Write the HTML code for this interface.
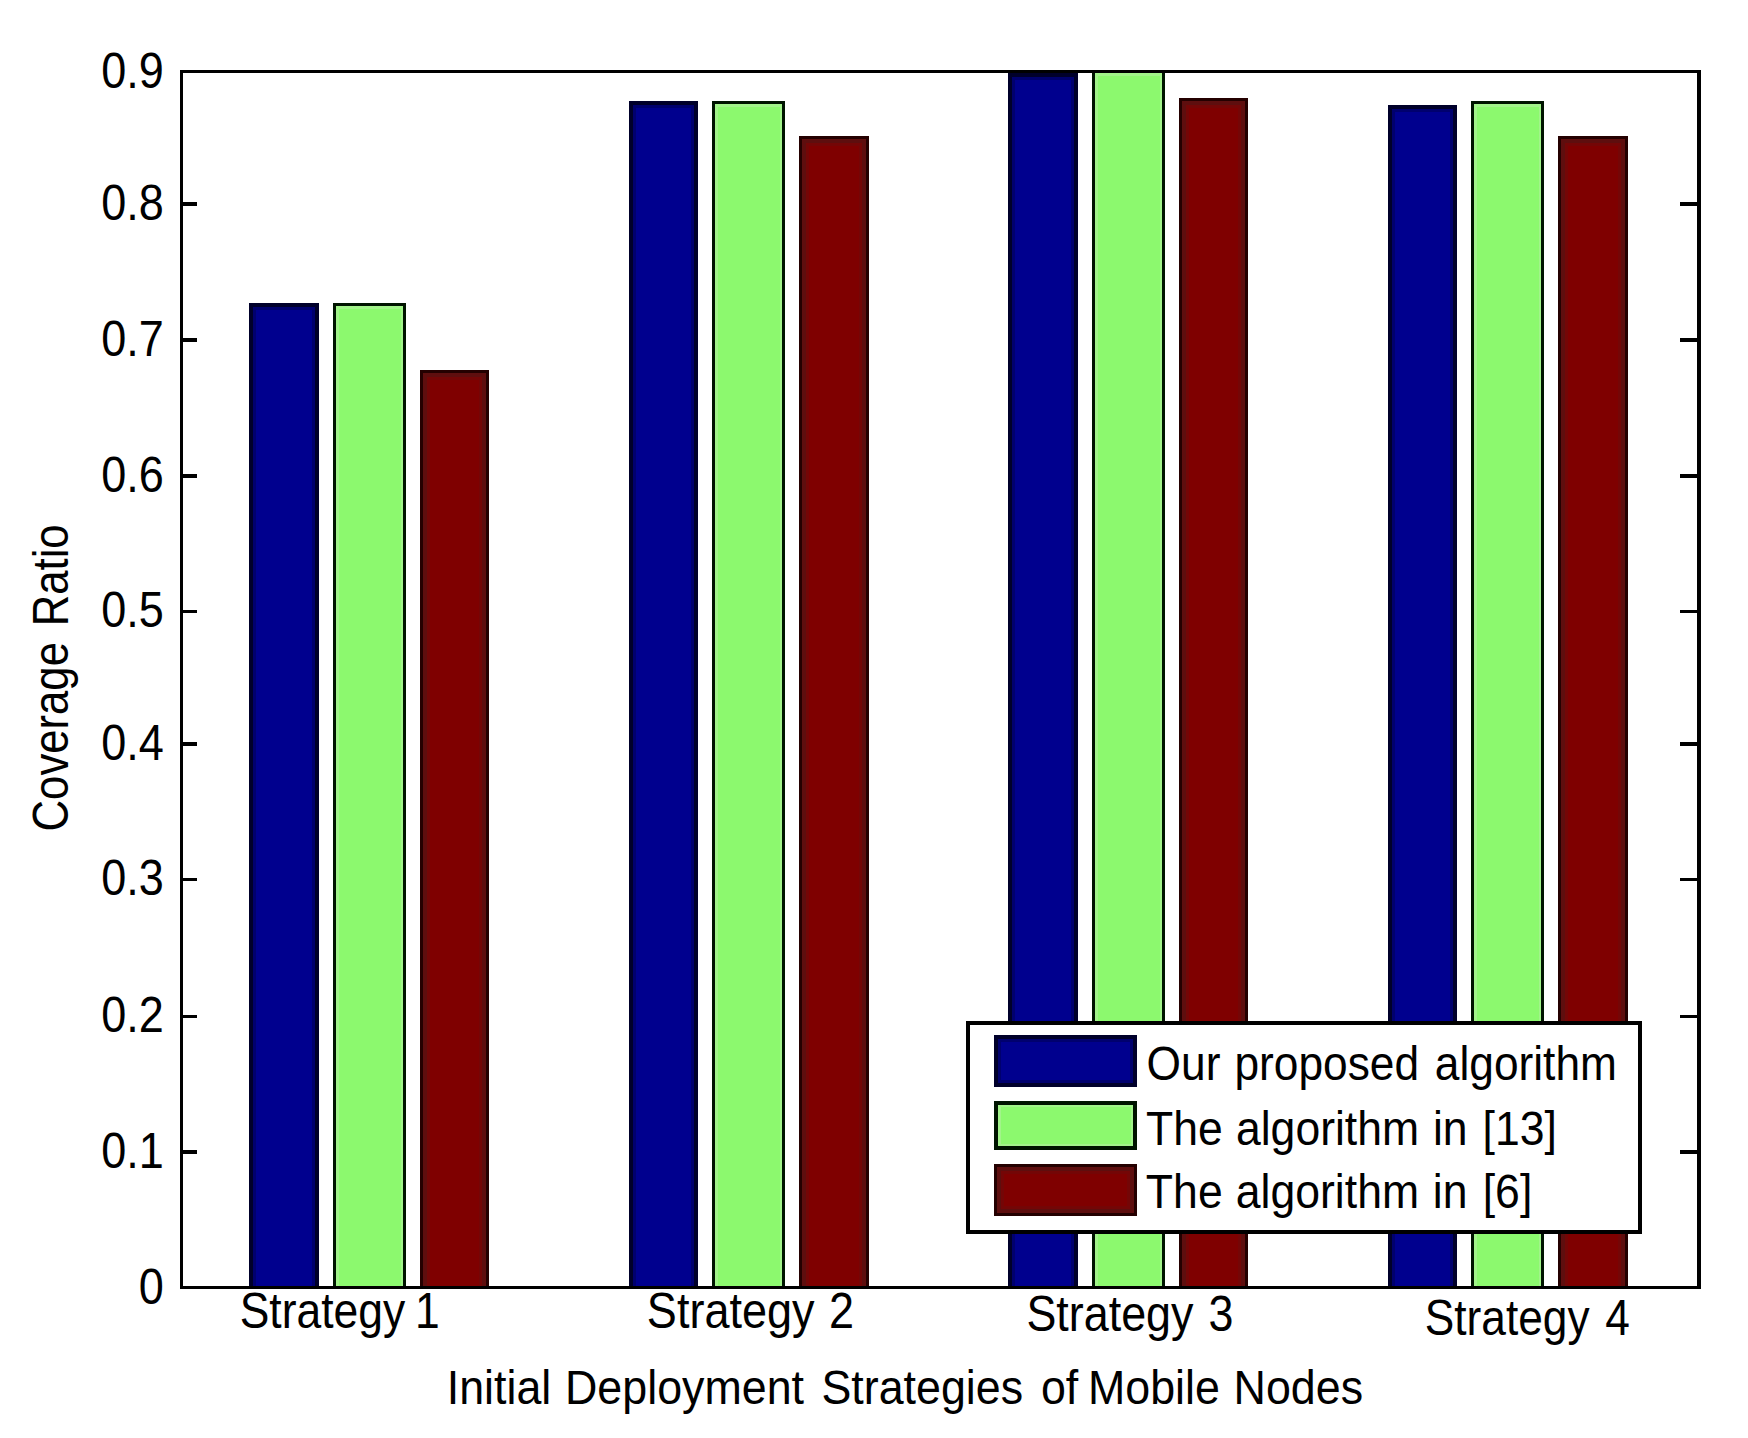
<!DOCTYPE html>
<html><head><meta charset="utf-8"><title>Coverage Ratio</title>
<style>
html,body{margin:0;padding:0;background:#fff}
svg{display:block}
text{font-family:"Liberation Sans",sans-serif;font-size:100px;fill:#000}
rect{shape-rendering:crispEdges}
</style></head><body>
<svg width="1748" height="1438" viewBox="0 0 1748 1438">
<rect x="0" y="0" width="1748" height="1438" fill="#fff"/>
<rect x="249" y="303" width="70" height="986" fill="#00002a"/>
<rect x="253" y="307" width="62" height="982" fill="#00006e"/>
<rect x="256" y="310" width="56" height="979" fill="#00008e"/>
<rect x="333" y="303" width="73" height="986" fill="#001400"/>
<rect x="336" y="306" width="67" height="983" fill="#a2f48a"/>
<rect x="338.5" y="308.5" width="62" height="980.5" fill="#8cf96e"/>
<rect x="420" y="370" width="69" height="919" fill="#240000"/>
<rect x="423" y="373" width="63" height="916" fill="#5e0e0e"/>
<rect x="427" y="377" width="55" height="912" fill="#740606"/>
<rect x="430" y="380" width="49" height="909" fill="#7f0000"/>
<rect x="629" y="101" width="69" height="1188" fill="#00002a"/>
<rect x="633" y="105" width="61" height="1184" fill="#00006e"/>
<rect x="636" y="108" width="55" height="1181" fill="#00008e"/>
<rect x="712" y="101" width="73" height="1188" fill="#001400"/>
<rect x="715" y="104" width="67" height="1185" fill="#a2f48a"/>
<rect x="717.5" y="106.5" width="62" height="1182.5" fill="#8cf96e"/>
<rect x="799" y="136" width="70" height="1153" fill="#240000"/>
<rect x="802" y="139" width="64" height="1150" fill="#5e0e0e"/>
<rect x="806" y="143" width="56" height="1146" fill="#740606"/>
<rect x="809" y="146" width="50" height="1143" fill="#7f0000"/>
<rect x="1008" y="73" width="70" height="1216" fill="#00002a"/>
<rect x="1012" y="77" width="62" height="1212" fill="#00006e"/>
<rect x="1015" y="80" width="56" height="1209" fill="#00008e"/>
<rect x="1092" y="70" width="73" height="1219" fill="#001400"/>
<rect x="1095" y="73" width="67" height="1216" fill="#a2f48a"/>
<rect x="1097.5" y="75.5" width="62" height="1213.5" fill="#8cf96e"/>
<rect x="1179" y="98" width="69" height="1191" fill="#240000"/>
<rect x="1182" y="101" width="63" height="1188" fill="#5e0e0e"/>
<rect x="1186" y="105" width="55" height="1184" fill="#740606"/>
<rect x="1189" y="108" width="49" height="1181" fill="#7f0000"/>
<rect x="1388" y="105" width="69" height="1184" fill="#00002a"/>
<rect x="1392" y="109" width="61" height="1180" fill="#00006e"/>
<rect x="1395" y="112" width="55" height="1177" fill="#00008e"/>
<rect x="1471" y="101" width="73" height="1188" fill="#001400"/>
<rect x="1474" y="104" width="67" height="1185" fill="#a2f48a"/>
<rect x="1476.5" y="106.5" width="62" height="1182.5" fill="#8cf96e"/>
<rect x="1558" y="136" width="70" height="1153" fill="#240000"/>
<rect x="1561" y="139" width="64" height="1150" fill="#5e0e0e"/>
<rect x="1565" y="143" width="56" height="1146" fill="#740606"/>
<rect x="1568" y="146" width="50" height="1143" fill="#7f0000"/>
<rect x="180" y="70" width="1521" height="3.2" fill="#000"/>
<rect x="180" y="1285.8" width="1521" height="3.2" fill="#000"/>
<rect x="180" y="70" width="3.2" height="1219" fill="#000"/>
<rect x="1697.2" y="70" width="3.8" height="1219" fill="#000"/>
<rect x="180" y="202" width="17" height="3.5" fill="#000"/>
<rect x="1680" y="202" width="21" height="3.5" fill="#000"/>
<rect x="180" y="338" width="17" height="3.5" fill="#000"/>
<rect x="1680" y="338" width="21" height="3.5" fill="#000"/>
<rect x="180" y="474" width="17" height="3.5" fill="#000"/>
<rect x="1680" y="474" width="21" height="3.5" fill="#000"/>
<rect x="180" y="609.5" width="17" height="3.5" fill="#000"/>
<rect x="1680" y="609.5" width="21" height="3.5" fill="#000"/>
<rect x="180" y="742" width="17" height="3.5" fill="#000"/>
<rect x="1680" y="742" width="21" height="3.5" fill="#000"/>
<rect x="180" y="877.5" width="17" height="3.5" fill="#000"/>
<rect x="1680" y="877.5" width="21" height="3.5" fill="#000"/>
<rect x="180" y="1014.5" width="17" height="3.5" fill="#000"/>
<rect x="1680" y="1014.5" width="21" height="3.5" fill="#000"/>
<rect x="180" y="1150" width="17" height="3.5" fill="#000"/>
<rect x="1680" y="1150" width="21" height="3.5" fill="#000"/>
<rect x="966" y="1021" width="676" height="213" fill="#000"/>
<rect x="970" y="1024.5" width="668" height="205.5" fill="#fff"/>
<rect x="994" y="1035" width="143" height="52" fill="#00002a"/>
<rect x="998" y="1039" width="135" height="44" fill="#00006e"/>
<rect x="1001" y="1042" width="129" height="38" fill="#00008e"/>
<rect x="994" y="1100.5" width="143" height="49.5" fill="#001400"/>
<rect x="998" y="1104.5" width="135" height="41.5" fill="#a2f48a"/>
<rect x="1000.5" y="1107" width="130" height="36.5" fill="#8cf96e"/>
<rect x="994" y="1163.5" width="143" height="52" fill="#240000"/>
<rect x="997" y="1166.5" width="137" height="46" fill="#5e0e0e"/>
<rect x="1001" y="1170.5" width="129" height="38" fill="#740606"/>
<rect x="1004" y="1173.5" width="123" height="32" fill="#7f0000"/>
<text text-anchor="end" transform="matrix(0.4504 0 0 0.4929 163.80 87.70)">0.9</text>
<text text-anchor="end" transform="matrix(0.4504 0 0 0.4929 163.80 219.70)">0.8</text>
<text text-anchor="end" transform="matrix(0.4504 0 0 0.4929 163.80 355.70)">0.7</text>
<text text-anchor="end" transform="matrix(0.4504 0 0 0.4929 163.80 491.70)">0.6</text>
<text text-anchor="end" transform="matrix(0.4504 0 0 0.4929 163.80 627.20)">0.5</text>
<text text-anchor="end" transform="matrix(0.4504 0 0 0.4929 163.80 759.70)">0.4</text>
<text text-anchor="end" transform="matrix(0.4504 0 0 0.4929 163.80 895.20)">0.3</text>
<text text-anchor="end" transform="matrix(0.4504 0 0 0.4929 163.80 1032.20)">0.2</text>
<text text-anchor="end" transform="matrix(0.4504 0 0 0.4929 163.80 1167.70)">0.1</text>
<text text-anchor="end" transform="matrix(0.4504 0 0 0.4929 163.80 1303.70)">0</text>
<text transform="matrix(0.4446 0 0 0.4943 0 1327.80)"><tspan x="539.2">Strategy </tspan><tspan x="933.5">1</tspan></text>
<text transform="matrix(0.4501 0 0 0.4943 0 1327.80)"><tspan x="1437.2">Strategy </tspan><tspan x="1841.9">2</tspan></text>
<text transform="matrix(0.4486 0 0 0.4943 0 1331.00)"><tspan x="2288.1">Strategy </tspan><tspan x="2694.0">3</tspan></text>
<text transform="matrix(0.4426 0 0 0.4971 0 1334.80)"><tspan x="3219.1">Strategy </tspan><tspan x="3626.8">4</tspan></text>
<text transform="matrix(0.4480 0 0 0.4900 0 1403.50)"><tspan x="997.2">Initial </tspan><tspan x="1261.2">Deployment </tspan><tspan x="1833.6">Strategies </tspan><tspan x="2323.4">of </tspan><tspan x="2428.5">Mobile </tspan><tspan x="2753.5">Nodes</tspan></text>
<text transform="matrix(0.4428 0 0 0.4900 0 1080.00)"><tspan x="2589.5">Our </tspan><tspan x="2787.9">proposed </tspan><tspan x="3240.4">algorithm</tspan></text>
<text transform="matrix(0.4453 0 0 0.4829 0 1145.30)"><tspan x="2573.5">The </tspan><tspan x="2775.6">algorithm </tspan><tspan x="3218.0">in </tspan><tspan x="3329.5">[13]</tspan></text>
<text transform="matrix(0.4460 0 0 0.4857 0 1207.90)"><tspan x="2569.2">The </tspan><tspan x="2770.7">algorithm </tspan><tspan x="3212.7">in </tspan><tspan x="3324.5">[6]</tspan></text>
<text transform="matrix(0 -0.4369 0.5000 0 68 1000)"><tspan x="385.8">Coverage </tspan><tspan x="855.3">Ratio</tspan></text>
</svg>
</body></html>
